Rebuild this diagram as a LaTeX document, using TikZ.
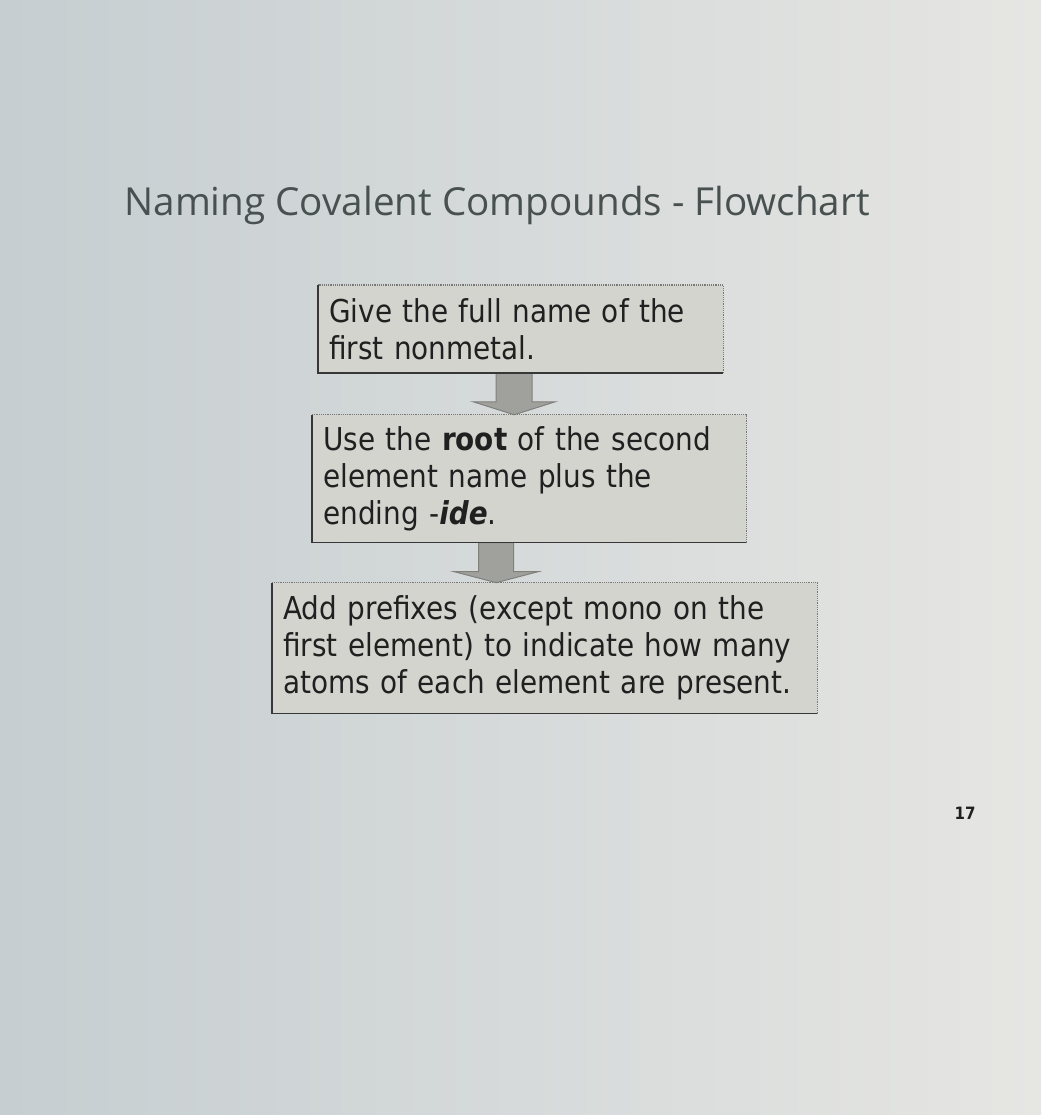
\documentclass[tikz,border=0pt]{standalone}
\usepackage{fontspec}
\setmainfont{DejaVu Sans}[FakeStretch=0.885]
\newfontfamily\titlefont{Open Sans}
\usetikzlibrary{positioning,calc}

\definecolor{paperleft}{RGB}{198,206,209}
\definecolor{paperright}{RGB}{230,230,227}
\definecolor{boxfill}{RGB}{212,212,207}
\definecolor{arrowfill}{RGB}{160,160,157}
\definecolor{arrowline}{RGB}{128,128,125}
\definecolor{edgedark}{RGB}{55,55,55}
\definecolor{edgelight}{RGB}{120,120,118}
\definecolor{ink}{RGB}{32,32,32}
\definecolor{titleink}{RGB}{72,80,80}

\begin{document}
\begin{tikzpicture}[x=1pt, y=-1pt,
    stepbox/.style = {fill=boxfill, text=ink, align=left, inner xsep=11pt, inner ysep=13pt,
                      font=\fontsize{31.5}{37}\selectfont},
    flowarrow/.style = {fill=arrowfill, draw=arrowline, line width=1pt},
    solidedge/.style = {draw=edgedark, line width=1.6pt},
    dotedge/.style = {draw=edgelight, line width=1.2pt, densely dotted}]

  % paper
  \fill[left color=paperleft, right color=paperright] (0,0) rectangle (1041,1115);
  \useasboundingbox (0,0) rectangle (1041,1115);

  \node[anchor=base west, text=titleink, font=\titlefont\fontsize{38.6}{46}\selectfont] (title) at (121,215)
       {Naming Covalent Compounds - Flowchart};

  \node[stepbox, anchor=north west, text width=383pt] (b1) at (318,285)
       {Give the full name of the\\first nonmetal.};
  \node[stepbox, text width=412pt, inner ysep=11.5pt, below=42pt of b1.south west, anchor=north west, xshift=-6pt] (b2)
       {Use the \textbf{root} of the second\\element name plus the\\ending -\textbf{\textit{ide}}.};
  \node[stepbox, text width=523pt, below=40pt of b2.south west, anchor=north west, xshift=-40pt] (b3)
       {Add prefixes (except mono on the\\first element) to indicate how many\\atoms of each element are present.};

  % block arrows
  \coordinate (a1) at ([xshift=-6.5pt]b1.south);
  \coordinate (a1tip) at (a1 |- b2.north);
  \draw[flowarrow] ($(a1)+(-18,0)$) -- ($(a1)+(18,0)$) -- ($(a1tip)+(18,-13)$) -- ($(a1tip)+(41,-13)$)
       -- (a1tip) -- ($(a1tip)+(-41,-13)$) -- ($(a1tip)+(-18,-13)$) -- cycle;

  \coordinate (a2) at ([xshift=-33pt]b2.south);
  \coordinate (a2tip) at (a2 |- b3.north);
  \draw[flowarrow] ($(a2)+(-17.5,0)$) -- ($(a2)+(17.5,0)$) -- ($(a2tip)+(17.5,-11)$) -- ($(a2tip)+(42,-11)$)
       -- (a2tip) -- ($(a2tip)+(-42,-11)$) -- ($(a2tip)+(-17.5,-11)$) -- cycle;

  % box edges
  \foreach \b in {b1,b2,b3} {
    \draw[dotedge] (\b.south east) -- (\b.north east) -- (\b.north west);
    \draw[solidedge] (\b.north west) -- (\b.south west) -- (\b.south east);
  }

  \node[anchor=base, text=ink, font=\bfseries\fontsize{17}{20}\selectfont] (page) at (965,819) {17};
\end{tikzpicture}
\end{document}
